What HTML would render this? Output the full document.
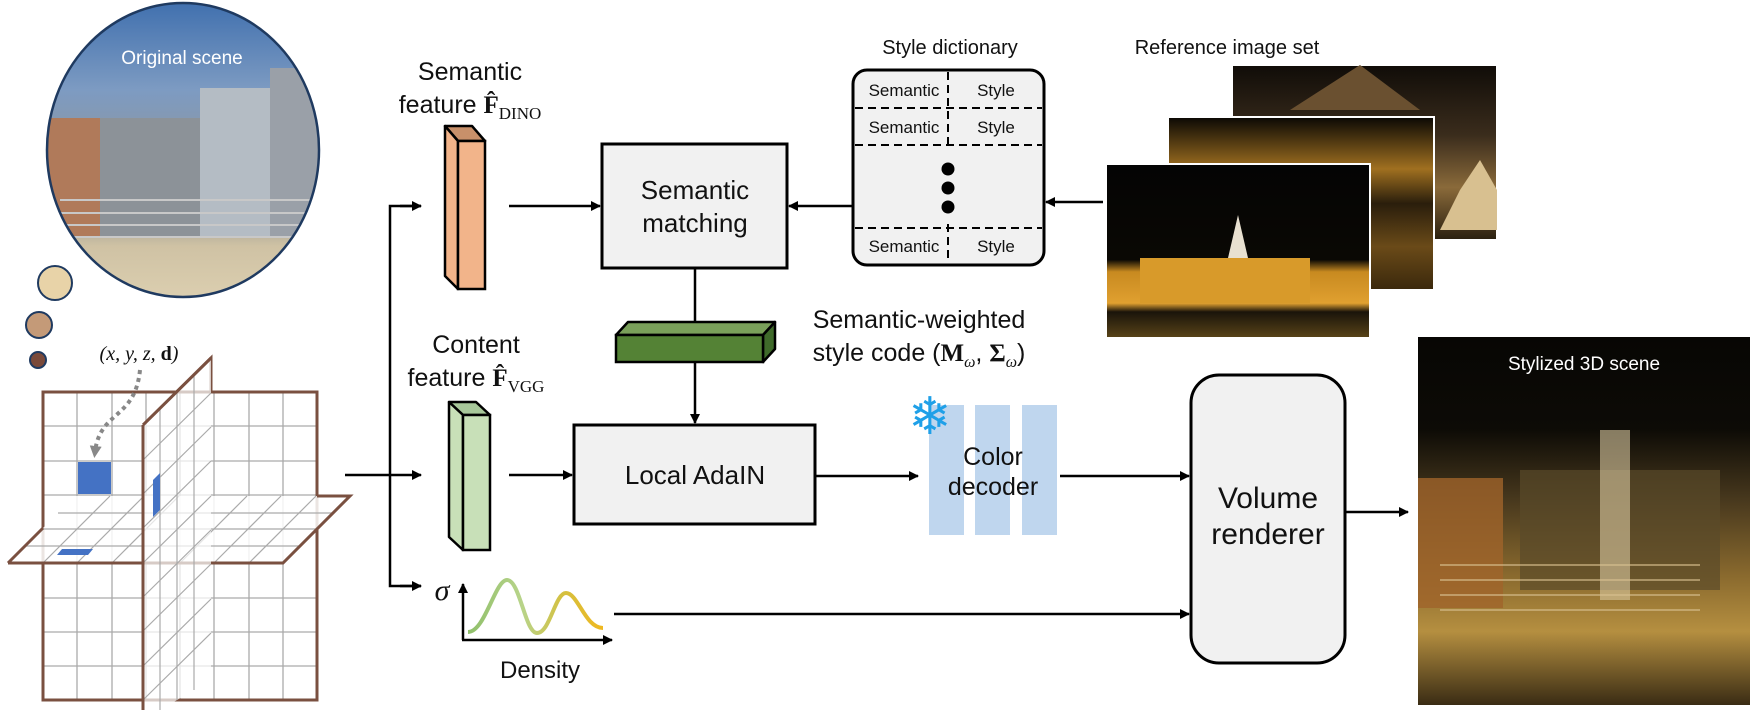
<!DOCTYPE html>
<html><head><meta charset="utf-8"><style>
html,body{margin:0;padding:0;background:#fff;}
svg{display:block;}
text{font-family:"Liberation Sans","DejaVu Sans",sans-serif;fill:#111;}
.ser{font-family:"Liberation Serif","DejaVu Serif",serif;}
</style></head><body>
<svg width="1755" height="710" viewBox="0 0 1755 710" xmlns="http://www.w3.org/2000/svg">
<defs>
<marker id="ah" markerWidth="10" markerHeight="10" refX="9" refY="5" orient="auto" markerUnits="userSpaceOnUse"><path d="M0,0 L10,5 L0,10 z" fill="#000"/></marker>
<marker id="ahg" markerWidth="12" markerHeight="12" refX="6" refY="6" orient="auto" markerUnits="userSpaceOnUse"><path d="M0,0 L12,6 L0,12 z" fill="#888"/></marker>
<linearGradient id="orig" x1="0" y1="0" x2="0" y2="1">
<stop offset="0" stop-color="#3f6fae"/><stop offset="0.3" stop-color="#7d9bc2"/><stop offset="0.55" stop-color="#8f959c"/><stop offset="0.72" stop-color="#9a9a94"/><stop offset="0.82" stop-color="#cfc2a4"/><stop offset="1" stop-color="#dccfb0"/></linearGradient>
<linearGradient id="styl" x1="0" y1="0" x2="0" y2="1">
<stop offset="0" stop-color="#070604"/><stop offset="0.25" stop-color="#0d0b06"/><stop offset="0.45" stop-color="#4a3a1e"/><stop offset="0.65" stop-color="#8a6a2e"/><stop offset="0.8" stop-color="#b58f40"/><stop offset="1" stop-color="#3a2c14"/></linearGradient>
<linearGradient id="ref1" x1="0" y1="0" x2="0" y2="1">
<stop offset="0" stop-color="#040404"/><stop offset="0.55" stop-color="#0a0804"/><stop offset="0.62" stop-color="#c88a20"/><stop offset="0.8" stop-color="#e0a030"/><stop offset="0.85" stop-color="#1a140a"/><stop offset="1" stop-color="#5a4418"/></linearGradient>
<linearGradient id="ref2" x1="0" y1="0" x2="0" y2="1">
<stop offset="0" stop-color="#0a0804"/><stop offset="0.3" stop-color="#a07020"/><stop offset="0.5" stop-color="#2a1e0c"/><stop offset="0.75" stop-color="#6a4a18"/><stop offset="1" stop-color="#3a280c"/></linearGradient>
<linearGradient id="ref3" x1="0" y1="0" x2="0" y2="1">
<stop offset="0" stop-color="#100c08"/><stop offset="0.4" stop-color="#3a2c1c"/><stop offset="0.7" stop-color="#8a6a3a"/><stop offset="1" stop-color="#2a2010"/></linearGradient>
<linearGradient id="dens" x1="0" y1="0" x2="1" y2="0">
<stop offset="0" stop-color="#8fbf6a"/><stop offset="0.4" stop-color="#b8d48a"/><stop offset="0.7" stop-color="#d4c040"/><stop offset="1" stop-color="#f0b820"/></linearGradient>
<clipPath id="ellc"><ellipse cx="183" cy="150" rx="136" ry="147"/></clipPath>
</defs>

<!-- Original scene ellipse -->
<g clip-path="url(#ellc)">
<rect x="40" y="0" width="290" height="300" fill="url(#orig)"/>
<rect x="48" y="118" width="60" height="120" fill="#b07a5a"/>
<rect x="100" y="118" width="110" height="120" fill="#8c9298"/>
<rect x="200" y="88" width="90" height="150" fill="#b4bcc4"/>
<rect x="270" y="68" width="50" height="170" fill="#9aa0a8"/>
<g stroke="#c8c8c8" stroke-width="2"><line x1="60" y1="200" x2="320" y2="200"/><line x1="60" y1="213" x2="320" y2="213"/><line x1="60" y1="225" x2="320" y2="225"/><line x1="60" y1="237" x2="320" y2="237"/></g>
</g>
<ellipse cx="183" cy="150" rx="136" ry="147" fill="none" stroke="#1f3a60" stroke-width="2.5"/>
<text x="182" y="64" font-size="19" text-anchor="middle" style="fill:#fff">Original scene</text>

<!-- bubbles -->
<circle cx="55" cy="283" r="17" fill="#e8d3a8" stroke="#1f3a60" stroke-width="2"/>
<circle cx="39" cy="325" r="13" fill="#c49a78" stroke="#1f3a60" stroke-width="2"/>
<circle cx="38" cy="360" r="8" fill="#7a4a3a" stroke="#1f3a60" stroke-width="2"/>
<text x="139" y="360" font-size="20" text-anchor="middle" class="ser" font-style="italic">(x, y, z, <tspan font-weight="bold" font-style="normal">d</tspan>)</text>

<!-- Grid -->
<g>
<path d="M143,425 L211,358 L211,392" fill="none" stroke="#7a5040" stroke-width="3"/>
<rect x="43" y="392" width="274" height="308" fill="#fff"/>
<g stroke="#aaa" stroke-width="1.3">
<line x1="77" y1="392" x2="77" y2="700"/><line x1="112" y1="392" x2="112" y2="700"/><line x1="146" y1="392" x2="146" y2="700"/><line x1="180" y1="392" x2="180" y2="700"/><line x1="214" y1="392" x2="214" y2="700"/><line x1="249" y1="392" x2="249" y2="700"/><line x1="283" y1="392" x2="283" y2="700"/>
<line x1="43" y1="426" x2="317" y2="426"/><line x1="43" y1="461" x2="317" y2="461"/><line x1="43" y1="495" x2="317" y2="495"/><line x1="43" y1="529" x2="317" y2="529"/><line x1="43" y1="598" x2="317" y2="598"/><line x1="43" y1="632" x2="317" y2="632"/><line x1="43" y1="666" x2="317" y2="666"/>
</g>
<rect x="78" y="462" width="33" height="32" fill="#4472c4"/>
<rect x="43" y="392" width="274" height="308" fill="none" stroke="#7a5040" stroke-width="3"/>
<!-- horizontal plane -->
<path d="M8,563 L283,563 L350,496 L75,496 Z" fill="#fff" fill-opacity="0.85"/>
<g stroke="#aaa" stroke-width="1.2">
<line x1="25" y1="546" x2="300" y2="546"/><line x1="42" y1="529" x2="317" y2="529"/><line x1="58" y1="513" x2="333" y2="513"/>
<line x1="43" y1="563" x2="110" y2="496"/><line x1="77" y1="563" x2="144" y2="496"/><line x1="112" y1="563" x2="179" y2="496"/><line x1="180" y1="563" x2="247" y2="496"/><line x1="214" y1="563" x2="281" y2="496"/><line x1="249" y1="563" x2="316" y2="496"/>
</g>
<path d="M57,555 L88,555 L93,549 L62,549 Z" fill="#4472c4"/>
<path d="M8,563 L283,563 L350,496 L317,496" fill="none" stroke="#7a5040" stroke-width="3"/>
<line x1="8" y1="563" x2="43" y2="528" stroke="#7a5040" stroke-width="3"/>
<!-- depth plane -->
<path d="M143,425 L211,358 L211,680 L143,720 Z" fill="#fff" fill-opacity="0.7"/>
<g stroke="#aaa" stroke-width="1.2">
<line x1="160" y1="408" x2="160" y2="710"/><line x1="177" y1="391" x2="177" y2="700"/><line x1="194" y1="375" x2="194" y2="690"/>
<line x1="143" y1="460" x2="211" y2="393"/><line x1="143" y1="494" x2="211" y2="427"/><line x1="143" y1="528" x2="211" y2="461"/><line x1="143" y1="563" x2="211" y2="496"/><line x1="143" y1="597" x2="211" y2="530"/><line x1="143" y1="631" x2="211" y2="564"/><line x1="143" y1="666" x2="211" y2="599"/><line x1="143" y1="700" x2="211" y2="633"/>
</g>
<path d="M153,480 L160,473 L160,510 L153,517 Z" fill="#4472c4"/>
<line x1="143" y1="425" x2="143" y2="710" stroke="#7a5040" stroke-width="3"/>
<line x1="143" y1="425" x2="211" y2="358" stroke="#7a5040" stroke-width="3"/>
<path d="M140,370 C135,420 100,410 95,452" fill="none" stroke="#888" stroke-width="4" stroke-dasharray="4,4" marker-end="url(#ahg)"/>
</g>

<!-- split arrows -->
<g stroke="#000" stroke-width="2.5" fill="none">
<line x1="345" y1="475" x2="421" y2="475" marker-end="url(#ah)"/>
<polyline points="421,206 390,206 390,586 421,586" />
<line x1="400" y1="206" x2="421" y2="206" marker-end="url(#ah)"/>
<line x1="400" y1="586" x2="421" y2="586" marker-end="url(#ah)"/>
</g>

<!-- Semantic feature -->
<text x="470" y="80" font-size="25" text-anchor="middle">Semantic</text>
<text x="470" y="113" font-size="25" text-anchor="middle">feature <tspan class="ser" font-weight="bold">F̂</tspan><tspan class="ser" font-size="17" dy="6">DINO</tspan></text>
<path d="M445,126 L472,126 L485,141 L458,141 Z" fill="#c8906a" stroke="#000" stroke-width="2.5" stroke-linejoin="round"/>
<path d="M445,126 L458,141 L458,289 L445,276 Z" fill="#f2b48a" stroke="#000" stroke-width="2.5" stroke-linejoin="round"/>
<rect x="458" y="141" width="27" height="148" fill="#f2b48a" stroke="#000" stroke-width="2.5"/>
<line x1="509" y1="206" x2="600" y2="206" stroke="#000" stroke-width="2.5" marker-end="url(#ah)"/>

<!-- Semantic matching -->
<rect x="602" y="144" width="185" height="124" fill="#f1f1f1" stroke="#000" stroke-width="3"/>
<text x="695" y="199" font-size="26" text-anchor="middle">Semantic</text>
<text x="695" y="232" font-size="26" text-anchor="middle">matching</text>

<!-- Style dictionary -->
<text x="950" y="54" font-size="20" text-anchor="middle">Style dictionary</text>
<rect x="853" y="70" width="191" height="195" rx="14" fill="#f1f1f1" stroke="#000" stroke-width="3"/>
<g stroke="#000" stroke-width="2" stroke-dasharray="8,5">
<line x1="855" y1="108" x2="1042" y2="108"/><line x1="855" y1="145" x2="1042" y2="145"/><line x1="855" y1="228" x2="1042" y2="228"/>
<line x1="948" y1="72" x2="948" y2="150"/><line x1="948" y1="224" x2="948" y2="263"/>
</g>
<g font-size="17">
<text x="904" y="96" text-anchor="middle">Semantic</text><text x="996" y="96" text-anchor="middle">Style</text>
<text x="904" y="133" text-anchor="middle">Semantic</text><text x="996" y="133" text-anchor="middle">Style</text>
<text x="904" y="252" text-anchor="middle">Semantic</text><text x="996" y="252" text-anchor="middle">Style</text>
</g>
<circle cx="948" cy="169" r="6.5" fill="#000"/><circle cx="948" cy="188" r="6.5" fill="#000"/><circle cx="948" cy="207" r="6.5" fill="#000"/>
<line x1="853" y1="206" x2="789" y2="206" stroke="#000" stroke-width="2.5" marker-end="url(#ah)"/>
<line x1="1103" y1="202" x2="1046" y2="202" stroke="#000" stroke-width="2.5" marker-end="url(#ah)"/>

<!-- Reference images -->
<text x="1227" y="54" font-size="20" text-anchor="middle">Reference image set</text>
<rect x="1232" y="65" width="265" height="175" fill="url(#ref3)" stroke="#fff" stroke-width="2"/>
<path d="M1290,110 L1360,65 L1420,110 Z" fill="#6a5030"/>
<path d="M1460,190 L1480,160 L1497,190 L1497,230 L1440,230 Z" fill="#d8c090"/>
<rect x="1168" y="117" width="266" height="173" fill="url(#ref2)" stroke="#fff" stroke-width="2"/>
<rect x="1106" y="164" width="264" height="174" fill="url(#ref1)" stroke="#fff" stroke-width="2"/>
<rect x="1140" y="258" width="170" height="45" fill="#d89a2a"/>
<path d="M1228,258 L1238,215 L1248,258 Z" fill="#e8e0d0"/>

<!-- Green style code bar -->
<line x1="695" y1="268" x2="695" y2="322" stroke="#000" stroke-width="2.5"/>
<path d="M616,335 L628,322 L775,322 L763,335 Z" fill="#7aa05a" stroke="#000" stroke-width="2.5" stroke-linejoin="round"/>
<path d="M763,335 L775,322 L775,349 L763,362 Z" fill="#3f6a2a" stroke="#000" stroke-width="2.5" stroke-linejoin="round"/>
<rect x="616" y="335" width="147" height="27" fill="#548235" stroke="#000" stroke-width="2.5"/>
<line x1="695" y1="362" x2="695" y2="423" stroke="#000" stroke-width="2.5" marker-end="url(#ah)"/>
<text x="919" y="328" font-size="25" text-anchor="middle">Semantic-weighted</text>
<text x="919" y="361" font-size="25" text-anchor="middle">style code (<tspan class="ser" font-weight="bold">M</tspan><tspan class="ser" font-style="italic" font-size="16" dy="6">ω</tspan><tspan dy="-6">, </tspan><tspan class="ser" font-weight="bold">Σ</tspan><tspan class="ser" font-style="italic" font-size="16" dy="6">ω</tspan><tspan dy="-6">)</tspan></text>

<!-- Content feature -->
<text x="476" y="353" font-size="25" text-anchor="middle">Content</text>
<text x="476" y="386" font-size="25" text-anchor="middle">feature <tspan class="ser" font-weight="bold">F̂</tspan><tspan class="ser" font-size="17" dy="6">VGG</tspan></text>
<path d="M449,402 L476,402 L490,415 L463,415 Z" fill="#a8c89a" stroke="#000" stroke-width="2.5" stroke-linejoin="round"/>
<path d="M449,402 L463,415 L463,550 L449,537 Z" fill="#c8e0b8" stroke="#000" stroke-width="2.5" stroke-linejoin="round"/>
<rect x="463" y="415" width="27" height="135" fill="#c8e0b8" stroke="#000" stroke-width="2.5"/>
<line x1="509" y1="475" x2="572" y2="475" stroke="#000" stroke-width="2.5" marker-end="url(#ah)"/>

<!-- Local AdaIN -->
<rect x="574" y="425" width="241" height="99" fill="#f1f1f1" stroke="#000" stroke-width="3"/>
<text x="695" y="484" font-size="26" text-anchor="middle">Local AdaIN</text>
<line x1="815" y1="476" x2="918" y2="476" stroke="#000" stroke-width="2.5" marker-end="url(#ah)"/>

<!-- Color decoder -->
<rect x="929" y="405" width="35" height="130" fill="#bfd6ee"/>
<rect x="975" y="405" width="35" height="130" fill="#bfd6ee"/>
<rect x="1022" y="405" width="35" height="130" fill="#bfd6ee"/>
<text x="930" y="434" font-size="52" text-anchor="middle" style="fill:#1fa0e8">❄</text>
<text x="993" y="465" font-size="25" text-anchor="middle">Color</text>
<text x="993" y="495" font-size="25" text-anchor="middle">decoder</text>
<line x1="1060" y1="476" x2="1189" y2="476" stroke="#000" stroke-width="2.5" marker-end="url(#ah)"/>

<!-- Density -->
<text x="442" y="600" font-size="30" text-anchor="middle" class="ser" font-style="italic">σ</text>
<line x1="463" y1="640" x2="463" y2="584" stroke="#000" stroke-width="2.5" marker-end="url(#ah)"/>
<line x1="462" y1="640" x2="612" y2="640" stroke="#000" stroke-width="2.5" marker-end="url(#ah)"/>
<path d="M468,632 C485,632 495,580 507,580 C520,580 525,633 537,633 C550,633 555,593 566,593 C578,593 585,628 603,628" fill="none" stroke="url(#dens)" stroke-width="4"/>
<text x="540" y="678" font-size="24" text-anchor="middle">Density</text>
<line x1="614" y1="614" x2="1189" y2="614" stroke="#000" stroke-width="2.5" marker-end="url(#ah)"/>

<!-- Volume renderer -->
<rect x="1191" y="375" width="154" height="288" rx="28" fill="#f1f1f1" stroke="#000" stroke-width="3"/>
<text x="1268" y="508" font-size="30" text-anchor="middle">Volume</text>
<text x="1268" y="544" font-size="30" text-anchor="middle">renderer</text>
<line x1="1345" y1="512" x2="1408" y2="512" stroke="#000" stroke-width="2.5" marker-end="url(#ah)"/>

<!-- Stylized scene -->
<rect x="1418" y="337" width="332" height="368" fill="url(#styl)"/>
<rect x="1418" y="478" width="85" height="130" fill="#a0642a" opacity="0.8"/>
<rect x="1520" y="470" width="200" height="120" fill="#5a4a2a" opacity="0.7"/>
<rect x="1600" y="430" width="30" height="170" fill="#d8c8a0" opacity="0.6"/>
<g stroke="#d8c090" stroke-width="1.5" opacity="0.8"><line x1="1440" y1="565" x2="1700" y2="565"/><line x1="1440" y1="580" x2="1700" y2="580"/><line x1="1440" y1="595" x2="1700" y2="595"/><line x1="1440" y1="610" x2="1700" y2="610"/></g>
<text x="1584" y="370" font-size="19" text-anchor="middle" style="fill:#fff">Stylized 3D scene</text>
</svg>
</body></html>
